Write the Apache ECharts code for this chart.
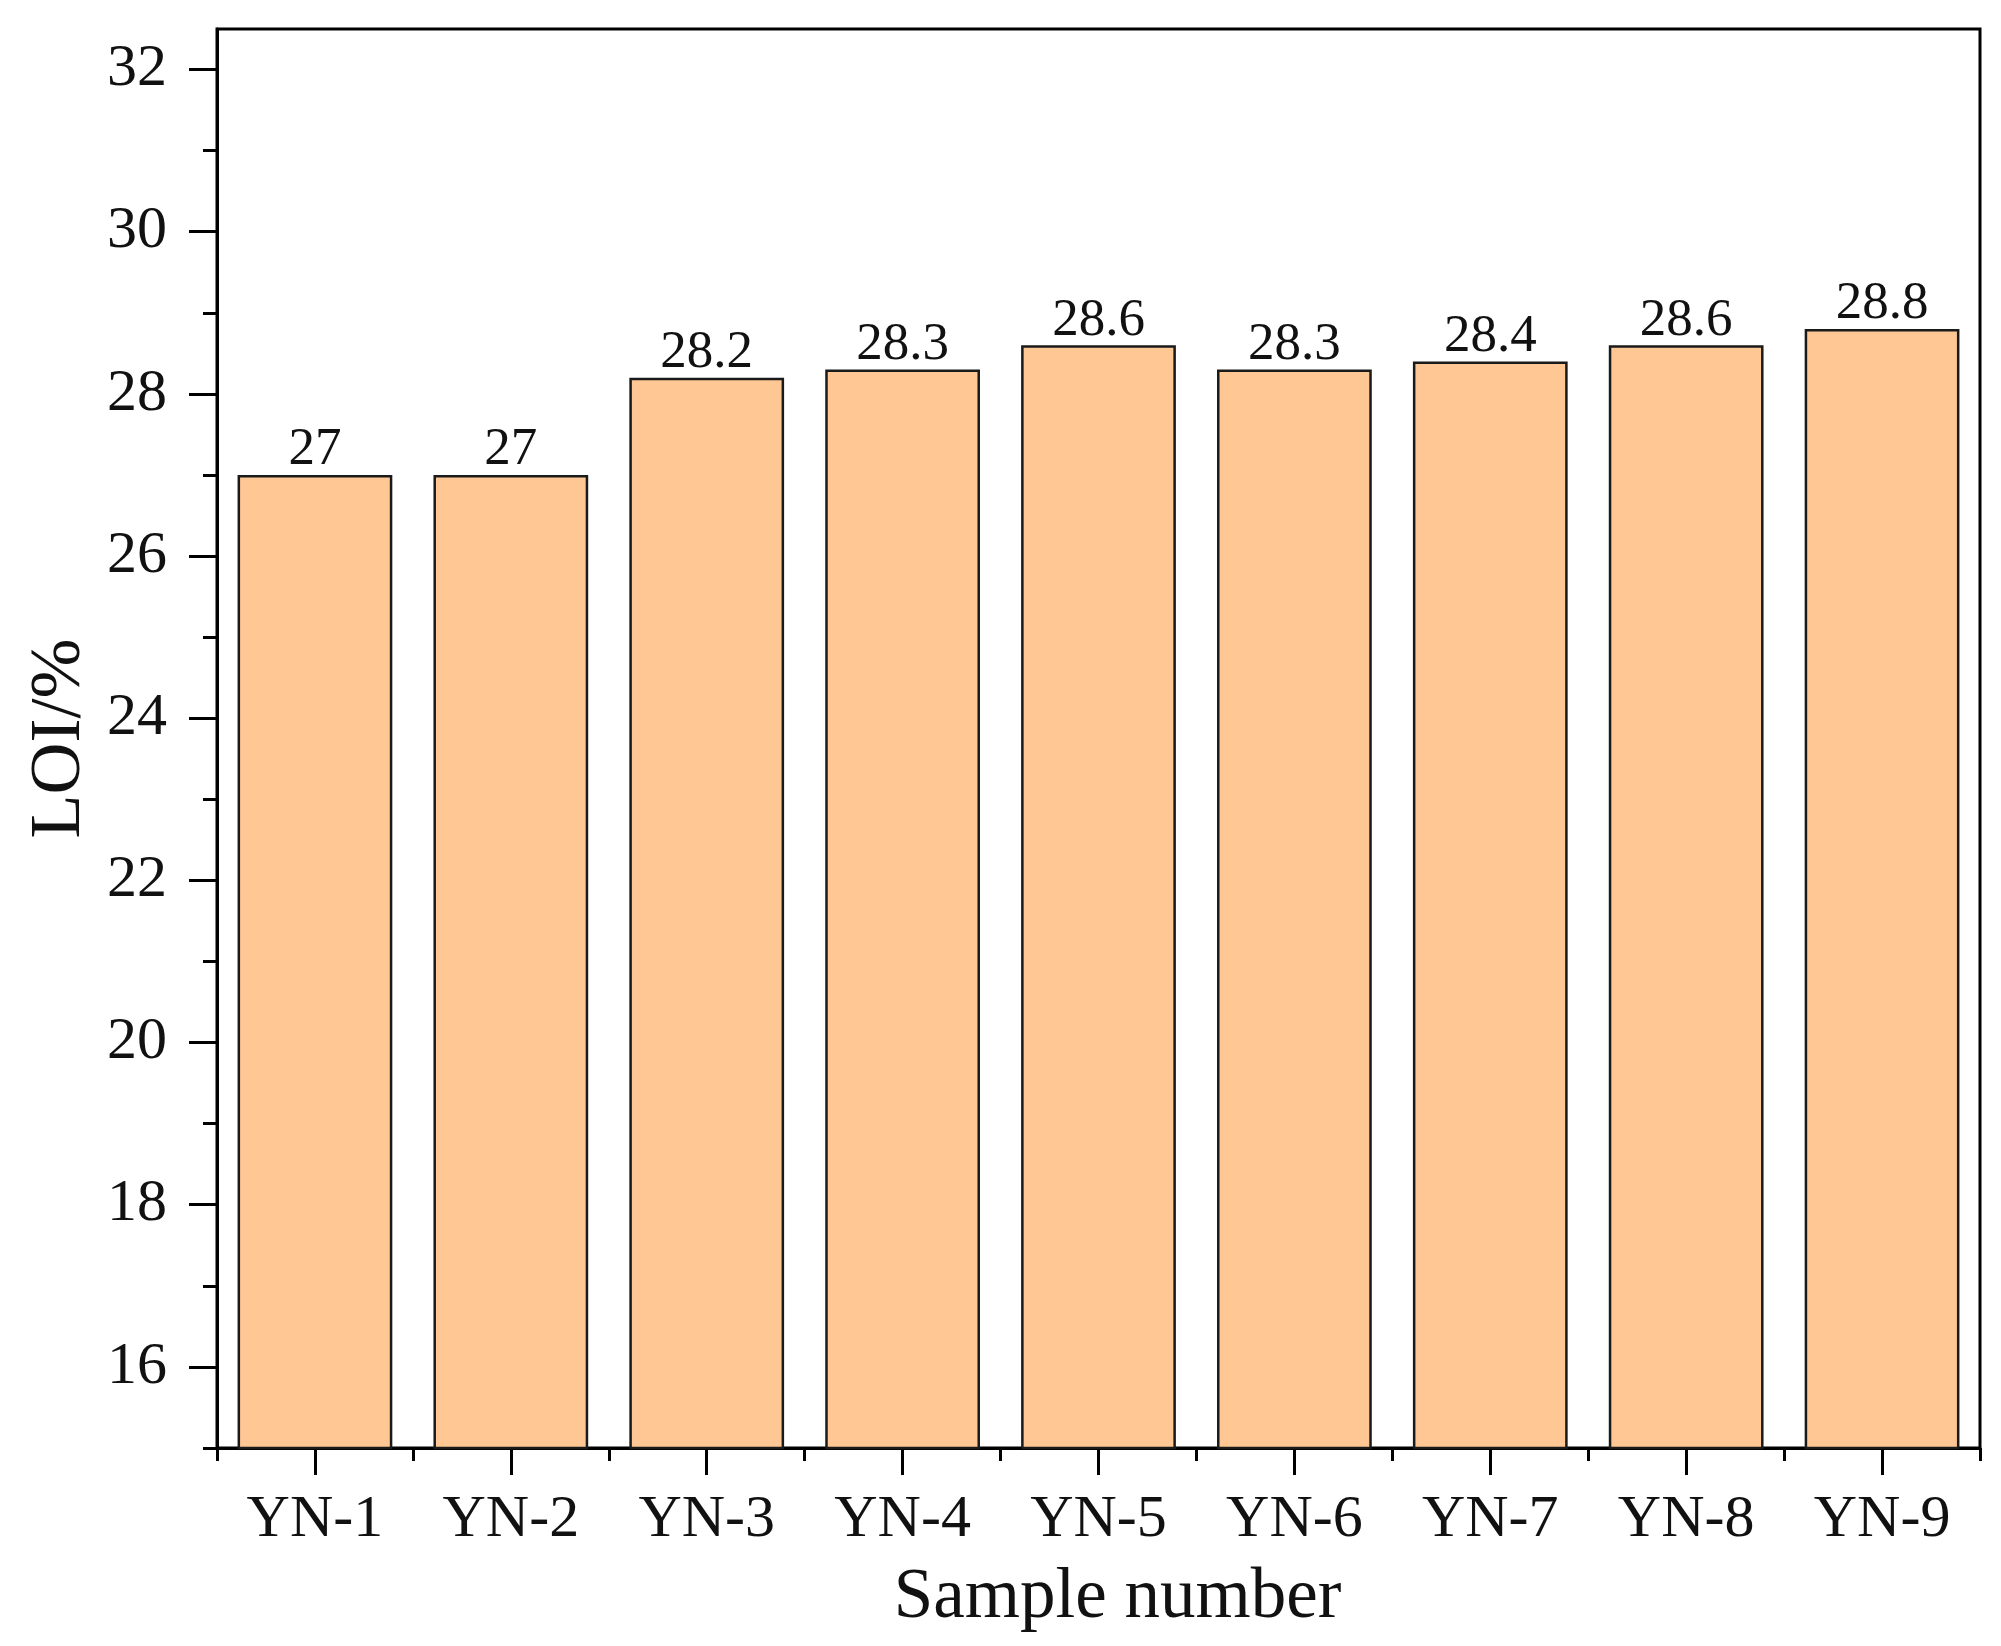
<!DOCTYPE html>
<html>
<head>
<meta charset="utf-8">
<script src="https://cdn.jsdelivr.net/npm/echarts@6/dist/echarts.min.js"></script>
<style>
html,body{margin:0;padding:0;background:#fff;}
#chart{width:2001px;height:1646px;}
</style>
</head>
<body>
<div id="chart"></div>
<script>
const categories = ['YN-1','YN-2','YN-3','YN-4','YN-5','YN-6','YN-7','YN-8','YN-9'];
const loiValues = [27, 27, 28.2, 28.3, 28.6, 28.3, 28.4, 28.6, 28.8];
const yMajorTicks = [16, 18, 20, 22, 24, 26, 28, 30, 32];
const yMinorTicks = [15, 17, 19, 21, 23, 25, 27, 29, 31];
const yMin = 15, yMax = 32.5;

const FONT = "'Liberation Serif','DejaVu Serif',serif";
const chart = echarts.init(document.getElementById('chart'), null, {renderer: 'canvas'});
chart.setOption({
  backgroundColor: '#ffffff',
  animation: false,
  grid: {left: 217, right: 21, top: 29, bottom: 198, show: true, borderColor: '#000', borderWidth: 3, backgroundColor: 'transparent'},
  xAxis: [
    {
      type: 'category', data: categories, position: 'bottom',
      name: 'Sample number', nameLocation: 'middle', nameGap: 115,
      nameTextStyle: {fontFamily: FONT, fontSize: 71, color: '#111', padding: [0, 0, 0, 38]},
      axisLine: {show: true, lineStyle: {color: '#000', width: 3}},
      axisTick: {show: true, alignWithLabel: true, length: 27, lineStyle: {color: '#000', width: 3}},
      axisLabel: {fontFamily: FONT, fontSize: 60, color: '#111', margin: 42},
      splitLine: {show: false}
    },
    {
      type: 'category', data: categories, position: 'bottom',
      axisLine: {show: false},
      axisTick: {show: true, alignWithLabel: false, length: 13, lineStyle: {color: '#000', width: 3}},
      axisLabel: {show: false},
      splitLine: {show: false}
    }
  ],
  yAxis: [
    {
      type: 'value', min: yMin, max: yMax, position: 'left',
      name: 'LOI/%', nameLocation: 'middle', nameGap: 121, nameRotate: 90,
      nameTextStyle: {fontFamily: FONT, fontSize: 72, color: '#111'},
      axisLine: {show: true, lineStyle: {color: '#000', width: 3}},
      axisTick: {show: true, length: 28, customValues: yMajorTicks, lineStyle: {color: '#000', width: 3}},
      axisLabel: {fontFamily: FONT, fontSize: 60, color: '#111', margin: 50, customValues: yMajorTicks},
      splitLine: {show: false}
    },
    {
      type: 'value', min: yMin, max: yMax, position: 'left',
      axisLine: {show: false},
      axisTick: {show: true, length: 14, customValues: yMinorTicks, lineStyle: {color: '#000', width: 3}},
      axisLabel: {show: false},
      splitLine: {show: false}
    }
  ],
  series: [{
    type: 'bar',
    xAxisIndex: 0, yAxisIndex: 0,
    data: loiValues,
    barCategoryGap: '21%',
    itemStyle: {color: '#FEC794', borderColor: '#1a1a1a', borderWidth: 2.5},
    label: {show: true, position: 'top', distance: -2, fontFamily: FONT, fontSize: 53, color: '#111'}
  }]
});
</script>
</body>
</html>
